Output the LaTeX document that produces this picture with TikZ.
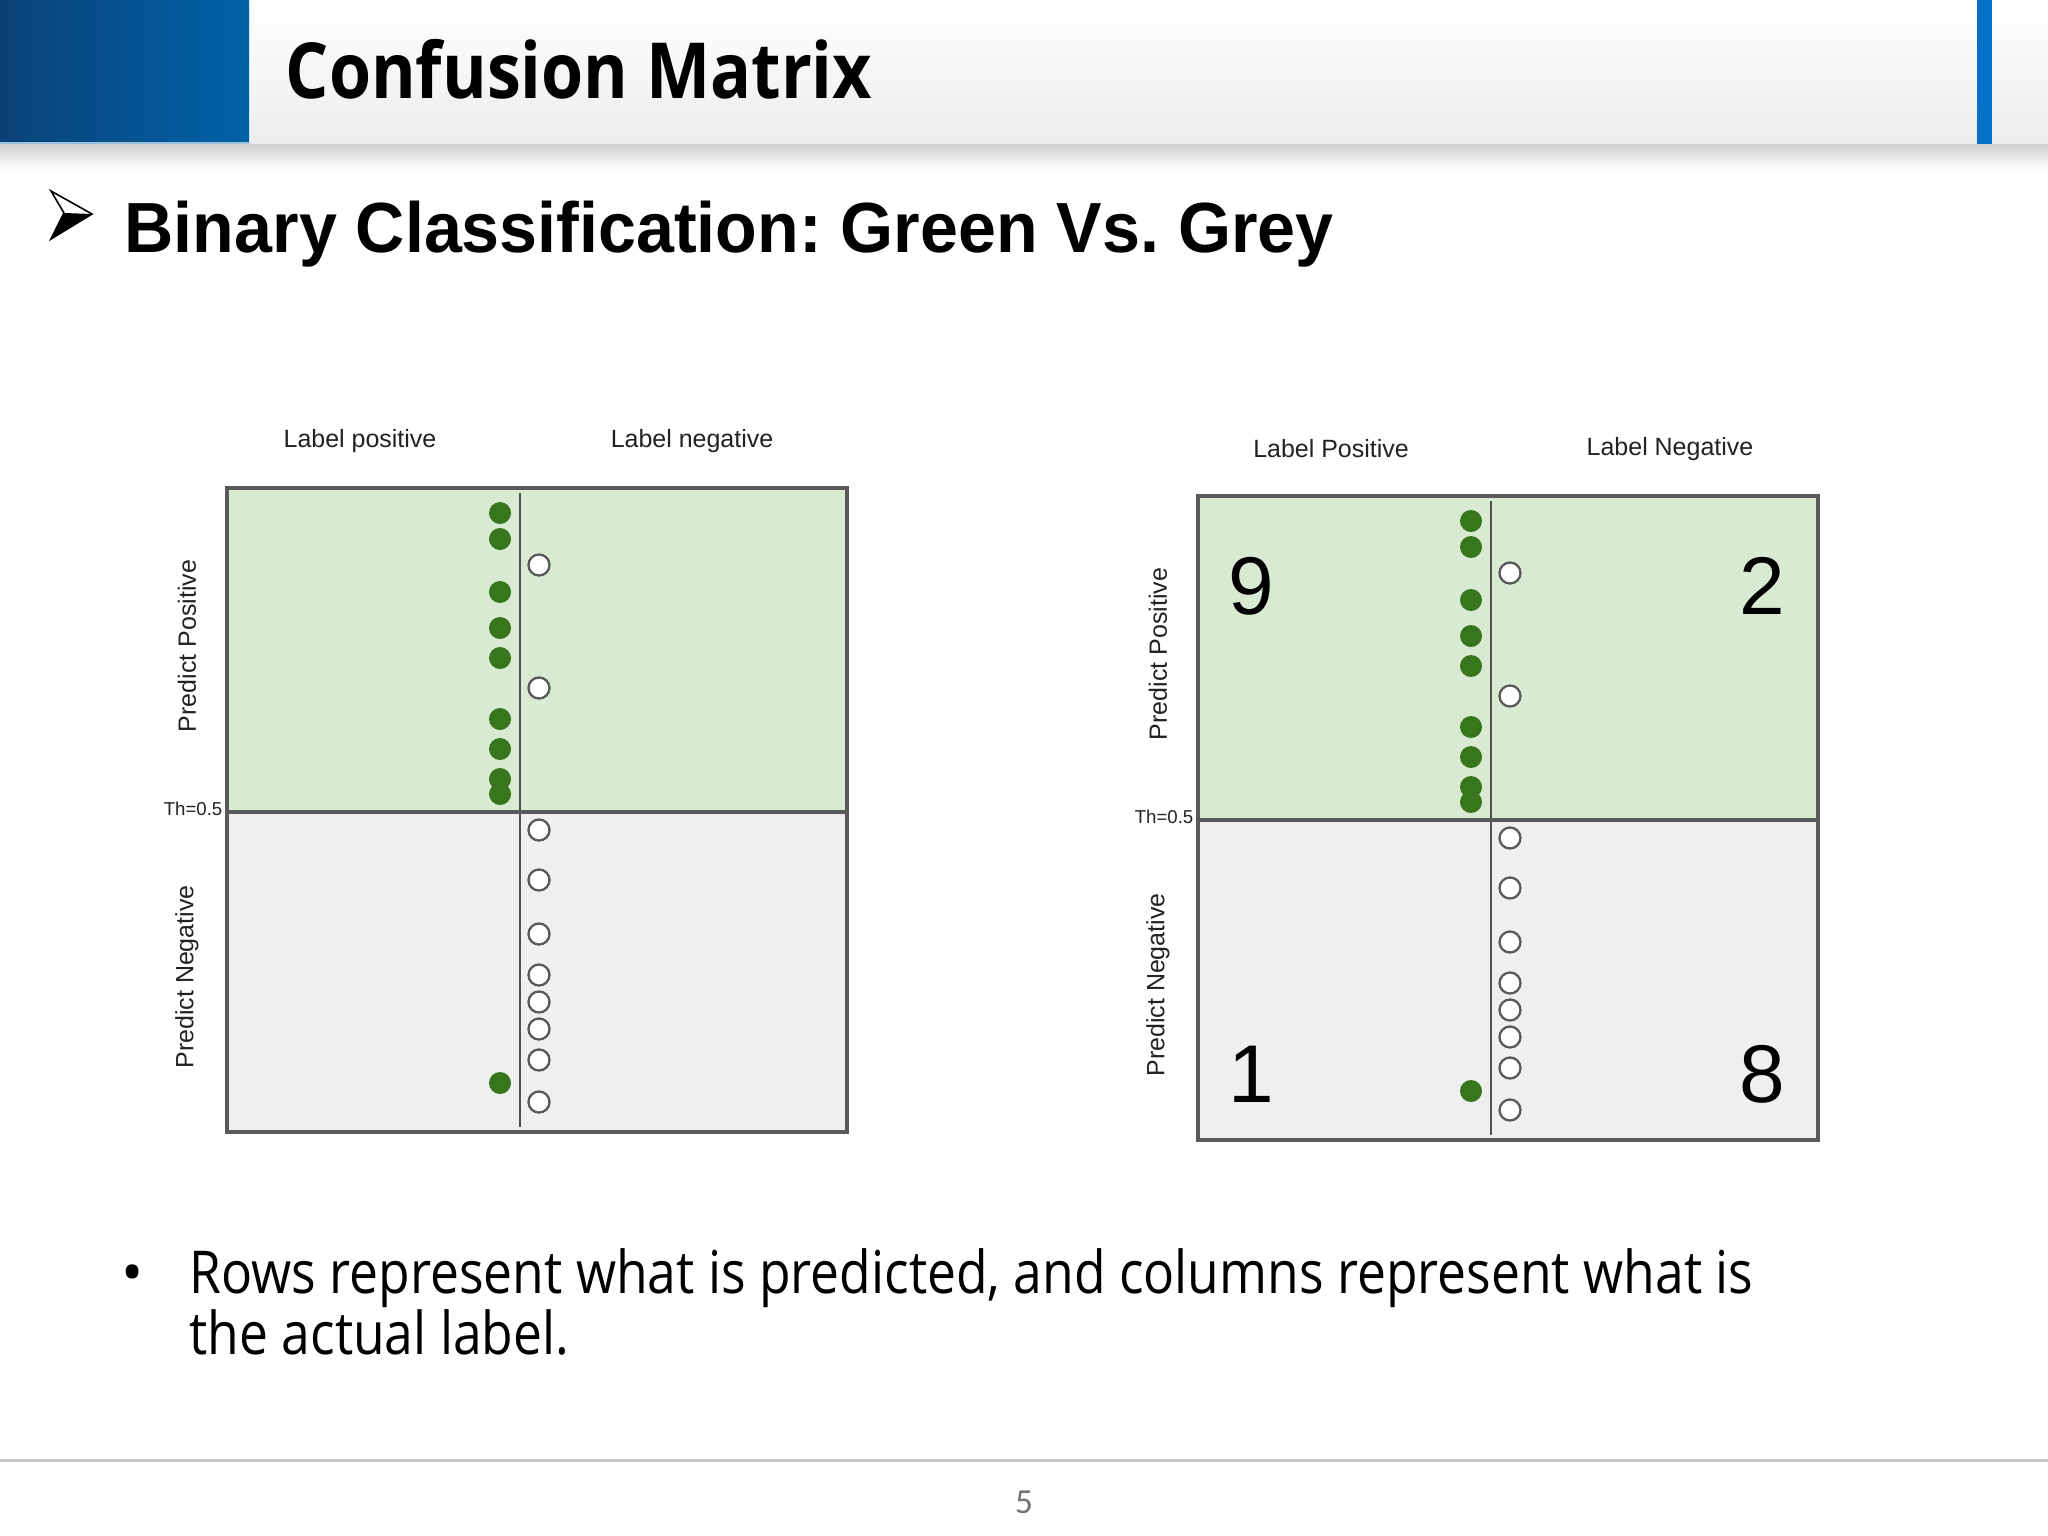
\documentclass[tikz,border=0pt]{standalone}
\usepackage{fontspec}
\setmainfont{Liberation Sans}
\newfontfamily\opensans{Open Sans}
\newfontfamily\carlito{Carlito}
\frenchspacing

\definecolor{navyL}{HTML}{0A4276}
\definecolor{navyR}{HTML}{0062A8}
\definecolor{barblue}{HTML}{0070C8}
\definecolor{hdrgray}{HTML}{EDEDED}
\definecolor{shadowgray}{HTML}{CFCFCF}
\definecolor{posfill}{HTML}{D9EAD3}
\definecolor{negfill}{HTML}{EFEFEF}
\definecolor{boxgray}{HTML}{595959}
\definecolor{dotgreen}{HTML}{38761D}
\definecolor{labelgray}{HTML}{222222}

\tikzset{
  cellborder/.style={draw=boxgray, line width=0.9pt},
  splitline/.style={draw=boxgray!90!black, line width=0.55pt},
  posdot/.style={fill=dotgreen},
  negdot/.style={fill=white, draw=boxgray, line width=0.65pt},
  axislabel/.style={font=\fontsize{7.1}{8}\selectfont, text=labelgray, inner sep=0pt},
  thlabel/.style={font=\fontsize{5.3}{6}\selectfont, text=labelgray, inner sep=0pt, anchor=east},
  count/.style={font=\fontsize{23.3}{24}\selectfont, inner sep=0pt, anchor=base},
  bodytext/.style={anchor=base west, inner sep=0pt, font=\opensans\fontsize{16.8}{18}\selectfont}
}

% #1 name prefix, #2 top left corner, #3 and #4 column titles, #5 x of #4
\newcommand{\confmatrix}[5]{%
  \begin{scope}[shift={#2}]
    \fill[posfill] (0,0) rectangle (620,324);
    \fill[negfill] (0,324) rectangle (620,644);
    \coordinate (#1top) at (293,5);
    \coordinate (#1bot) at (293,639);
    \draw[splitline] (#1top) -- (#1bot);
    \foreach \y in {25,51,104,140,170,231,261,291,306,595}
      \fill[posdot] (273,\y) circle[radius=0.11cm];
    \foreach \y in {77,200,342,392,446,487,514,541,572,614}
      \draw[negdot] (312,\y) circle[radius=0.105cm];
    \coordinate (#1thl) at (0,324);
    \coordinate (#1thr) at (620,324);
    \draw[cellborder] (#1thl) -- (#1thr);
    \draw[cellborder] (0,0) rectangle (620,644);
    \node[axislabel] (#1lp) at (133,-47) {#3};
    \node[axislabel] (#1ln) at (#5,-47) {#4};
    \node[axislabel, rotate=90] (#1pp) at (-40,158) {Predict Positive};
    \node[axislabel, rotate=90] (#1pn) at (-40,489) {Predict Negative};
    \node[thlabel] (#1th) at (-4,321) {Th=0.5};
  \end{scope}}

\begin{document}
\begin{tikzpicture}[x=0.01cm, y=-0.01cm]
  \useasboundingbox (0,0) rectangle (2048,1536);
  \fill[white] (0,0) rectangle (2048,1536);

  % header band
  \shade[top color=white, bottom color=hdrgray] (0,0) rectangle (2048,144);
  \shade[left color=navyL, right color=navyR] (0,0) rectangle (249,144);
  \fill[navyR!40] (0,142) rectangle (249,146);
  \fill[barblue] (1977,0) rectangle (1992,144);
  \shade[top color=shadowgray, bottom color=white] (0,144) rectangle (2048,170);
  \node[anchor=base west, inner sep=0pt, font=\opensans\bfseries\fontsize{22}{26}\selectfont]
    (title) at (285,98) {\scalebox{0.88}[1]{Confusion Matrix}};

  % arrow bullet
  \coordinate (atl) at (51,191);
  \coordinate (atip) at (92,214);
  \coordinate (ain) at (64,213);
  \coordinate (abl) at (51,239);
  \fill[black] (ain) -- (atip) -- (abl) -- cycle;
  \draw[line width=0.45pt, line join=miter] (ain) -- (atl) -- (atip) -- (abl) -- cycle;
  \node[anchor=base west, inner sep=0pt, font=\bfseries\fontsize{20.2}{24}\selectfont]
    (subtitle) at (124,252) {\scalebox{0.96}[1]{Binary Classification: Green Vs. Grey}};

  \confmatrix{L}{(227,488)}{Label positive}{Label negative}{465}
  \confmatrix{R}{(1198,496)}{Label Positive}{Label Negative}{472}

  \node[count] (tp) at (1251,614) {9};
  \node[count] (fp) at (1762,614) {2};
  \node[count] (fn) at (1251,1102) {1};
  \node[count] (tn) at (1762,1102) {8};

  \node[anchor=base, inner sep=0pt, font=\opensans\fontsize{16.8}{18}\selectfont] (dot) at (133,1293) {•};
  \node[bodytext] (note1) at (189,1293)
    {\scalebox{0.873}[1]{Rows represent what is predicted, and columns represent what is}};
  \node[bodytext] (note2) at (189,1354) {\scalebox{0.873}[1]{the actual label.}};

  % footer
  \coordinate (fl) at (0,1460);
  \coordinate (fr) at (2048,1460);
  \draw[draw=black!22, line width=0.85pt] (fl) -- (fr);
  \node[inner sep=0pt, text=black!55, font=\carlito\fontsize{10}{12}\selectfont] (page) at (1024,1502) {5};
\end{tikzpicture}
\end{document}
